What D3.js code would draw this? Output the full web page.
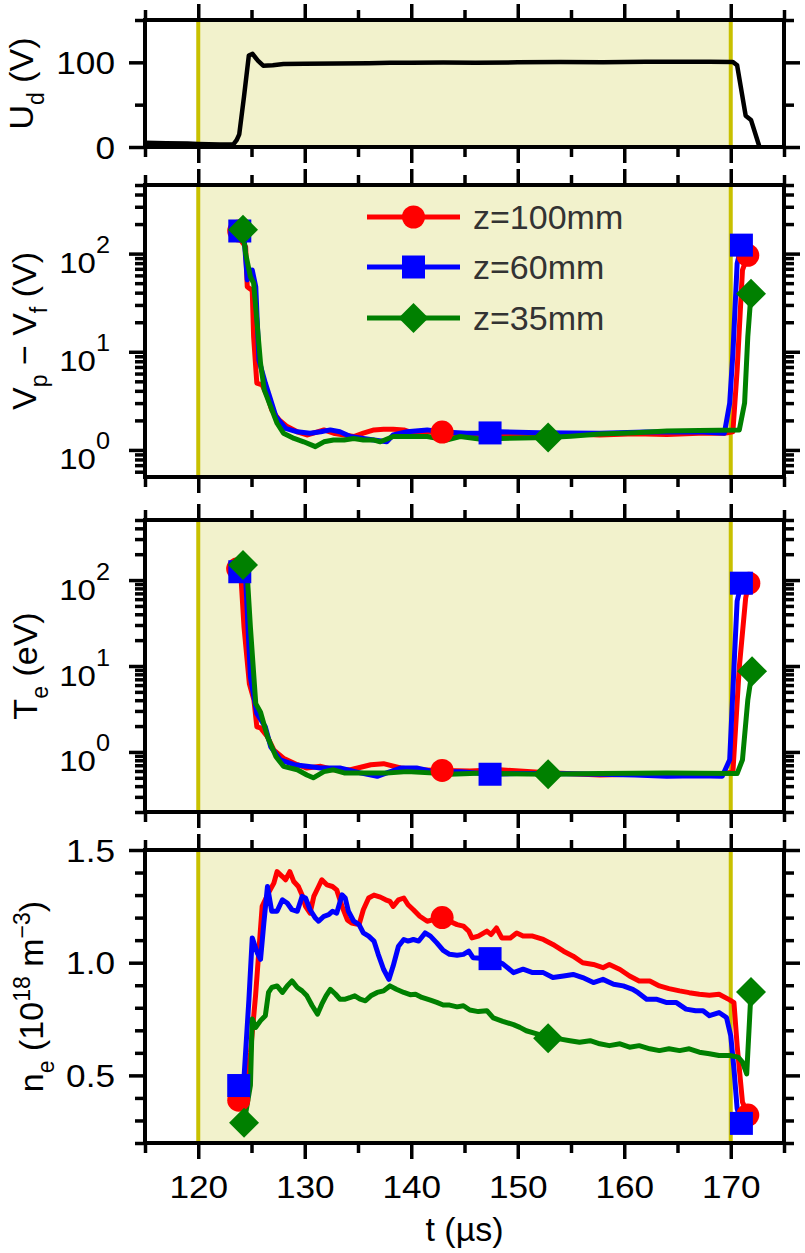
<!DOCTYPE html>
<html>
<head>
<meta charset="utf-8">
<script src="https://cdn.jsdelivr.net/npm/d3@7"></script>
<style>
  body { margin: 0; background: #fff; }
  svg { display: block; font-family: "Liberation Sans", Arial, sans-serif; }
</style>
</head>
<body>
<svg id="chart" width="805" height="1253"></svg>
<script>
// ---- data: [t (us), value] ----
const tDomain = [115, 175];
const tLabels = [120, 130, 140, 150, 160, 170];
const pulse = [120, 170];

const seriesNames = ["z=100mm", "z=60mm", "z=35mm"];
const seriesColors = ["#ff0000", "#0000ff", "#008000"];
const seriesShapes = ["circle", "square", "diamond"];
const midMarkT = [142.9, 147.4, 152.85];

const udData = [[115,5],[117,4.5],[119,4],[120,3.5],[122,3],[123.3,3],[123.6,8],[123.85,15],[124.3,60],[124.75,108],[125.1,110],[125.6,102],[126.1,96],[127,96.5],[128,98],[130,98.4],[133,98.6],[136,99],[138,99.6],[140,99.4],[143,99.8],[146,99.6],[150,100],[154,100.3],[158,100.2],[162,100.6],[166,100.6],[168,100.8],[170.2,100.5],[170.6,96.5],[171.4,37],[171.9,32],[172.7,0]];

const vpRed = [[123.8,170],[124.0,137],[124.45,117],[124.6,46],[125.07,42],[125.2,14.2],[125.5,4.8],[126.0,4.6],[126.5,3.5],[126.9,2.55],[127.6,2.02],[128.35,1.73],[129.3,1.53],[130.2,1.42],[131.2,1.53],[131.8,1.6],[132.7,1.48],[133.7,1.42],[134.6,1.37],[135.5,1.48],[136.5,1.6],[137.4,1.62],[138.3,1.62],[139.3,1.6],[140.2,1.48],[141.5,1.53],[142.9,1.52],[145.2,1.42],[148.3,1.48],[151,1.45],[154,1.47],[157.7,1.42],[161,1.46],[164,1.44],[167,1.48],[169.4,1.48],[170.2,1.53],[170.6,6.5],[171.1,68],[171.6,96]];
const vpBlue = [[123.9,170],[124.3,148],[124.6,54],[125.07,68],[125.4,46],[125.7,8.2],[126.3,4.8],[126.6,3.8],[127.3,2.18],[128.2,1.66],[129.3,1.53],[130.5,1.48],[131.5,1.53],[132.4,1.6],[133.3,1.53],[134.3,1.37],[135.5,1.31],[136.5,1.26],[137.7,1.21],[138.3,1.42],[139.6,1.53],[141.5,1.6],[142.7,1.53],[145.2,1.48],[147.4,1.49],[148.3,1.53],[152,1.5],[157.7,1.48],[162,1.52],[167,1.53],[169.4,1.48],[169.9,3.0],[170.2,9.6],[170.6,79],[171.0,122]];
const vpGreen = [[124.2,175],[124.45,100],[124.9,58],[125.2,50],[125.5,21],[125.85,7.6],[126.2,4.1],[126.8,2.76],[127.4,1.87],[128.0,1.48],[129.0,1.31],[129.9,1.21],[131.0,1.08],[131.8,1.21],[132.7,1.26],[133.7,1.26],[134.6,1.31],[135.5,1.26],[136.5,1.26],[137.1,1.21],[138.3,1.37],[139.6,1.37],[141.5,1.37],[143.3,1.26],[144.6,1.37],[147.1,1.26],[148.3,1.31],[152.85,1.34],[155,1.38],[157.7,1.45],[161,1.5],[164,1.56],[167,1.58],[170.8,1.6],[171.3,3.0],[171.6,14.2],[171.9,39]];

const teRed = [[123.7,135],[124.0,115],[124.3,28],[124.8,6.2],[125.23,4.0],[125.5,1.96],[125.85,1.9],[126.5,1.5],[127.1,1.05],[128.0,0.845],[129.3,0.71],[130.2,0.65],[131.5,0.68],[132.7,0.62],[134.3,0.62],[136.2,0.71],[137.4,0.73],[139.0,0.65],[140.5,0.62],[142.9,0.61],[145.5,0.6],[148.3,0.62],[152,0.58],[157.7,0.54],[161,0.55],[164,0.54],[167,0.55],[169.2,0.56],[170.2,0.58],[170.8,9.6],[171.4,62],[171.7,92]];
const teBlue = [[123.9,125],[124.45,105],[124.9,7.4],[125.5,2.8],[126.3,1.96],[126.8,1.15],[127.7,0.81],[129.0,0.71],[130.2,0.68],[131.5,0.65],[133.3,0.65],[135.2,0.57],[136.8,0.52],[137.7,0.57],[139.0,0.65],[140.5,0.65],[142.1,0.59],[144.6,0.59],[147.4,0.55],[149.9,0.56],[153,0.56],[157.7,0.55],[161,0.54],[164,0.52],[167,0.53],[169.2,0.52],[169.9,0.81],[170.3,9.6],[170.6,57],[171.0,92]];
const teGreen = [[124.2,150],[124.6,115],[124.9,28],[125.4,3.65],[125.85,2.9],[126.5,1.5],[127.3,0.88],[128.0,0.68],[129.3,0.62],[130.2,0.54],[130.8,0.5],[131.8,0.59],[132.7,0.62],[133.7,0.57],[135.8,0.57],[137.7,0.57],[139.6,0.59],[142.1,0.57],[143.6,0.55],[146.8,0.57],[147.4,0.53],[148.3,0.56],[152.85,0.55],[157.7,0.56],[161,0.565],[164,0.57],[167,0.565],[170.6,0.56],[171.1,0.81],[171.6,4.0],[172.0,8.7]];

const neRed = [[123.8,0.39],[124.4,0.45],[124.9,0.6],[125.38,0.853],[126.0,1.25],[126.6,1.31],[127.1,1.353],[127.4,1.404],[127.9,1.382],[128.2,1.368],[128.6,1.404],[128.97,1.36],[129.4,1.338],[129.75,1.30],[130.07,1.25],[130.5,1.22],[130.85,1.294],[131.3,1.338],[131.6,1.368],[132.1,1.345],[132.6,1.338],[133.0,1.323],[133.5,1.25],[134.0,1.19],[134.4,1.176],[135.1,1.169],[135.5,1.235],[136.0,1.287],[136.5,1.30],[137.1,1.291],[137.6,1.279],[138.0,1.272],[138.3,1.25],[138.8,1.279],[139.3,1.287],[139.7,1.257],[140.2,1.235],[140.8,1.206],[141.5,1.184],[142.1,1.191],[142.9,1.2],[143.6,1.184],[144.3,1.169],[144.9,1.162],[145.4,1.14],[145.7,1.11],[146.3,1.118],[147.1,1.14],[147.5,1.125],[148.0,1.154],[148.5,1.11],[149.3,1.11],[149.9,1.132],[150.5,1.118],[151.4,1.118],[152.4,1.103],[153.3,1.081],[154.3,1.051],[155.2,1.029],[156.1,1.0],[157.1,0.992],[158.0,0.978],[158.6,0.992],[159.6,0.970],[160.5,0.941],[161.4,0.919],[162.4,0.919],[163.3,0.897],[164.2,0.885],[165.2,0.875],[166.1,0.867],[167.05,0.86],[168.0,0.856],[168.9,0.86],[169.9,0.835],[170.3,0.823],[170.6,0.632],[171.1,0.382],[171.6,0.324]];
const neBlue = [[123.8,0.455],[124.29,0.485],[124.76,0.838],[125.07,1.11],[125.54,1.044],[125.85,1.015],[126.16,1.176],[126.5,1.338],[126.9,1.228],[127.4,1.228],[127.9,1.279],[128.35,1.265],[128.8,1.235],[129.3,1.228],[129.75,1.294],[130.07,1.287],[130.5,1.235],[131.0,1.198],[131.3,1.184],[131.8,1.206],[132.25,1.213],[132.6,1.228],[133.0,1.22],[133.5,1.301],[133.8,1.287],[134.1,1.228],[134.6,1.184],[135.1,1.169],[135.5,1.132],[136.0,1.118],[136.5,1.096],[136.9,1.037],[137.4,0.971],[137.9,0.926],[138.3,0.985],[138.8,1.073],[139.3,1.103],[139.7,1.096],[140.2,1.103],[140.7,1.096],[141.3,1.132],[141.8,1.118],[142.4,1.088],[143.0,1.055],[143.6,1.037],[144.3,1.033],[144.9,1.037],[145.4,1.051],[145.8,1.022],[146.5,1.02],[147.4,1.018],[148.6,0.995],[149.6,0.956],[150.5,0.971],[151.4,0.956],[152.4,0.956],[153.3,0.934],[154.3,0.941],[155.2,0.948],[156.1,0.934],[157.1,0.912],[158.0,0.926],[159.0,0.904],[159.9,0.897],[160.8,0.882],[161.3,0.867],[162.1,0.838],[163.0,0.838],[164.0,0.823],[164.9,0.823],[165.8,0.794],[166.7,0.787],[167.4,0.787],[168.0,0.765],[168.9,0.779],[169.6,0.757],[170.0,0.676],[170.3,0.529],[170.6,0.353],[171.0,0.287]];
const neGreen = [[124.3,0.29],[124.9,0.456],[125.07,0.75],[125.4,0.713],[125.85,0.743],[126.3,0.765],[126.6,0.868],[126.9,0.89],[127.4,0.897],[127.9,0.868],[128.35,0.897],[128.8,0.919],[129.3,0.89],[129.75,0.875],[130.2,0.853],[130.7,0.809],[131.2,0.772],[131.6,0.816],[132.0,0.853],[132.4,0.882],[132.9,0.86],[133.3,0.838],[133.8,0.838],[134.3,0.846],[134.7,0.853],[135.2,0.838],[135.7,0.831],[136.2,0.853],[136.8,0.868],[137.4,0.875],[138.0,0.897],[138.6,0.882],[139.3,0.868],[139.9,0.858],[140.4,0.86],[141.0,0.846],[141.8,0.834],[142.4,0.824],[143.0,0.812],[143.6,0.812],[144.3,0.804],[144.9,0.809],[145.5,0.79],[146.3,0.783],[147.1,0.787],[147.7,0.755],[148.6,0.74],[149.6,0.725],[150.2,0.713],[150.8,0.698],[151.8,0.684],[152.85,0.665],[153.9,0.662],[154.9,0.654],[155.8,0.647],[156.8,0.654],[157.7,0.64],[158.6,0.632],[159.6,0.64],[160.5,0.625],[161.4,0.632],[162.4,0.618],[163.3,0.61],[164.2,0.618],[165.2,0.61],[166.1,0.618],[167.05,0.603],[168.0,0.596],[168.9,0.588],[169.9,0.588],[170.7,0.581],[171.1,0.559],[171.5,0.507],[171.9,0.87]];

// ---- layout ----
const left = 145, right = 784;
const fontSize = 34;
const tickFont = 32, tickStretch = 1.1;
const svg = d3.select("#chart");
const x = d3.scaleLinear().domain(tDomain).range([left, right]);

function logTicks(dom) {
  const out = [];
  for (let k = Math.floor(Math.log10(dom[0])); k <= Math.ceil(Math.log10(dom[1])); k++) {
    for (let m = 1; m <= 9; m++) {
      const v = m * Math.pow(10, k);
      if (v >= dom[0] * 0.999 && v <= dom[1] * 1.001) out.push({v: v, major: m === 1, exp: k});
    }
  }
  return out;
}

const panels = [
  {top: 20, bottom: 147, y: d3.scaleLinear().domain([0, 150]),
   ticks: [0, 50, 100, 150].map(v => ({v: v, major: v % 100 === 0})), fmt: d => d,
   title: [["U"], ["d", "sub"], [" (V)"]], titleX: 33,
   series: [{data: udData}]},
  {top: 185, bottom: 477, y: d3.scaleLog().domain([0.53, 500]), log: true,
   title: [["V"], ["p", "sub"], [" \u2212 V"], ["f", "sub"], [" (V)"]], titleX: 36, legend: true,
   series: [vpRed, vpBlue, vpGreen]},
  {top: 520, bottom: 812, y: d3.scaleLog().domain([0.2, 500]), log: true,
   title: [["T"], ["e", "sub"], [" (eV)"]], titleX: 37,
   series: [teRed, teBlue, teGreen]},
  {top: 850, bottom: 1143, y: d3.scaleLinear().domain([0.2, 1.5]),
   ticks: d3.range(2, 16).map(i => ({v: i / 10, major: i % 5 === 0})), fmt: d3.format(".1f"),
   title: [["n"], ["e", "sub"], [" (10"], ["18", "sup"], [" m"], ["\u22123", "sup"], [")"]], titleX: 43,
   series: [neRed, neBlue, neGreen], xLabels: true}
];

function marker(g, shape, cx, cy, color) {
  if (shape === "circle") {
    g.append("circle").attr("cx", cx).attr("cy", cy).attr("r", 11.5).attr("fill", color);
  } else if (shape === "square") {
    g.append("rect").attr("x", cx - 11.5).attr("y", cy - 11.5).attr("width", 23).attr("height", 23).attr("fill", color);
  } else {
    g.append("path").attr("d", d3.symbol(d3.symbolSquare, 450)())
      .attr("transform", `translate(${cx},${cy}) rotate(45)`).attr("fill", color);
  }
}

function richText(t, parts, subSize, shiftSub, shiftSup) {
  let cur = 0;
  parts.forEach(([s, mode]) => {
    const target = mode === "sub" ? shiftSub : mode === "sup" ? -shiftSup : 0;
    const ts = t.append("tspan").attr("dy", target - cur).text(s);
    if (mode) ts.attr("font-size", subSize);
    cur = target;
  });
}

panels.forEach(p => {
  const y = p.y.range([p.bottom, p.top]);
  const g = svg.append("g");

  // pulse-on band
  g.append("rect").attr("x", x(pulse[0])).attr("y", p.top)
    .attr("width", x(pulse[1]) - x(pulse[0])).attr("height", p.bottom - p.top)
    .attr("fill", "#f2f2cc");
  pulse.forEach(t => g.append("line").attr("x1", x(t)).attr("x2", x(t))
    .attr("y1", p.top).attr("y2", p.bottom).attr("stroke", "#c8c000").attr("stroke-width", 4));

  // x ticks (top and bottom)
  const xt = d3.range(tDomain[0], tDomain[1] + 1, 5);
  [["top", p.top, -1], ["bottom", p.bottom, 1]].forEach(([side, yy, dir]) => {
    const ax = (side === "top" ? d3.axisTop(x) : d3.axisBottom(x)).tickValues(xt).tickSizeOuter(0)
      .tickFormat(d => (p.xLabels && side === "bottom" && tLabels.includes(d)) ? d : "");
    const a = g.append("g").attr("transform", `translate(0,${yy})`).call(ax);
    a.select(".domain").remove();
    a.selectAll(".tick line").attr("y2", d => dir * (d % 10 === 0 ? 16 : 10))
      .attr("stroke", "#000").attr("stroke-width", 3.5);
    a.selectAll(".tick text").attr("y", 55).attr("dy", 0).attr("font-size", tickFont)
      .attr("transform", `scale(${tickStretch},1)`)
      .attr("font-family", "Liberation Sans, Arial, sans-serif").attr("fill", "#000");
  });

  // y ticks (left labelled, right plain)
  const ticks = p.log ? logTicks(p.y.domain()) : p.ticks;
  ["left", "right"].forEach(side => {
    const dir = side === "left" ? -1 : 1;
    const ax = (side === "left" ? d3.axisLeft(y) : d3.axisRight(y))
      .tickValues(ticks.map(d => d.v)).tickSizeOuter(0).tickFormat("");
    const a = g.append("g").attr("transform", `translate(${side === "left" ? left : right},0)`).call(ax);
    a.select(".domain").remove();
    a.selectAll(".tick line").attr("x2", (d, i) => dir * (ticks[i].major ? 16 : 10))
      .attr("stroke", "#000").attr("stroke-width", 3.5);
    if (side === "left") {
      a.selectAll(".tick").each(function(d, i) {
        const tk = ticks[i];
        if (!tk.major) return;
        const txt = d3.select(this).select("text").text("")
          .attr("font-family", "Liberation Sans, Arial, sans-serif").attr("fill", "#000")
          .attr("text-anchor", "end").attr("transform", `scale(${tickStretch},1)`);
        if (p.log) {
          txt.attr("x", -35 / tickStretch).attr("y", 0).attr("dy", 0).attr("font-size", 30);
          txt.append("tspan").attr("dy", 19).text("10");
          txt.append("tspan").attr("dy", -20).attr("font-size", 23).text(tk.exp);
        } else {
          txt.attr("x", -30 / tickStretch).attr("dy", "0.35em").attr("font-size", tickFont).text(p.fmt(tk.v));
        }
      });
    }
  });

  // data lines and markers
  const line = d3.line().x(d => x(d[0])).y(d => y(d[1]));
  if (p.series[0].data) {
    g.append("path").datum(p.series[0].data).attr("d", line).attr("fill", "none")
      .attr("stroke", "#000").attr("stroke-width", 4.5).attr("stroke-linejoin", "round");
  } else {
    p.series.forEach((data, i) => {
      g.append("path").datum(data).attr("d", line).attr("fill", "none")
        .attr("stroke", seriesColors[i]).attr("stroke-width", 5).attr("stroke-linejoin", "round");
    });
    p.series.forEach((data, i) => {
      const mid = d3.least(data, d => Math.abs(d[0] - midMarkT[i]));
      [data[0], mid, data[data.length - 1]].forEach(d =>
        marker(g, seriesShapes[i], x(d[0]), y(d[1]), seriesColors[i]));
    });
  }

  // legend
  if (p.legend) {
    const rows = [217, 267, 318];
    seriesNames.forEach((name, i) => {
      g.append("line").attr("x1", 367).attr("x2", 460).attr("y1", rows[i]).attr("y2", rows[i])
        .attr("stroke", seriesColors[i]).attr("stroke-width", 5);
      marker(g, seriesShapes[i], 413.5, rows[i], seriesColors[i]);
      g.append("text").attr("x", 473).attr("y", rows[i]).attr("dy", "0.36em")
        .attr("font-size", fontSize).attr("fill", "#333").text(name);
    });
  }

  // frame
  g.append("rect").attr("x", left).attr("y", p.top).attr("width", right - left)
    .attr("height", p.bottom - p.top).attr("fill", "none").attr("stroke", "#000").attr("stroke-width", 4);

  // y title
  const t = g.append("text").attr("font-size", fontSize).attr("text-anchor", "middle").attr("fill", "#000")
    .attr("transform", `translate(${p.titleX},${(p.top + p.bottom) / 2}) rotate(-90)`);
  richText(t, p.title, 23, 11, 13);
});

// x title
svg.append("text").attr("x", (left + right) / 2).attr("y", 1241).attr("text-anchor", "middle")
  .attr("font-size", fontSize).attr("fill", "#000").text("t (\u00b5s)");
</script>
</body>
</html>
